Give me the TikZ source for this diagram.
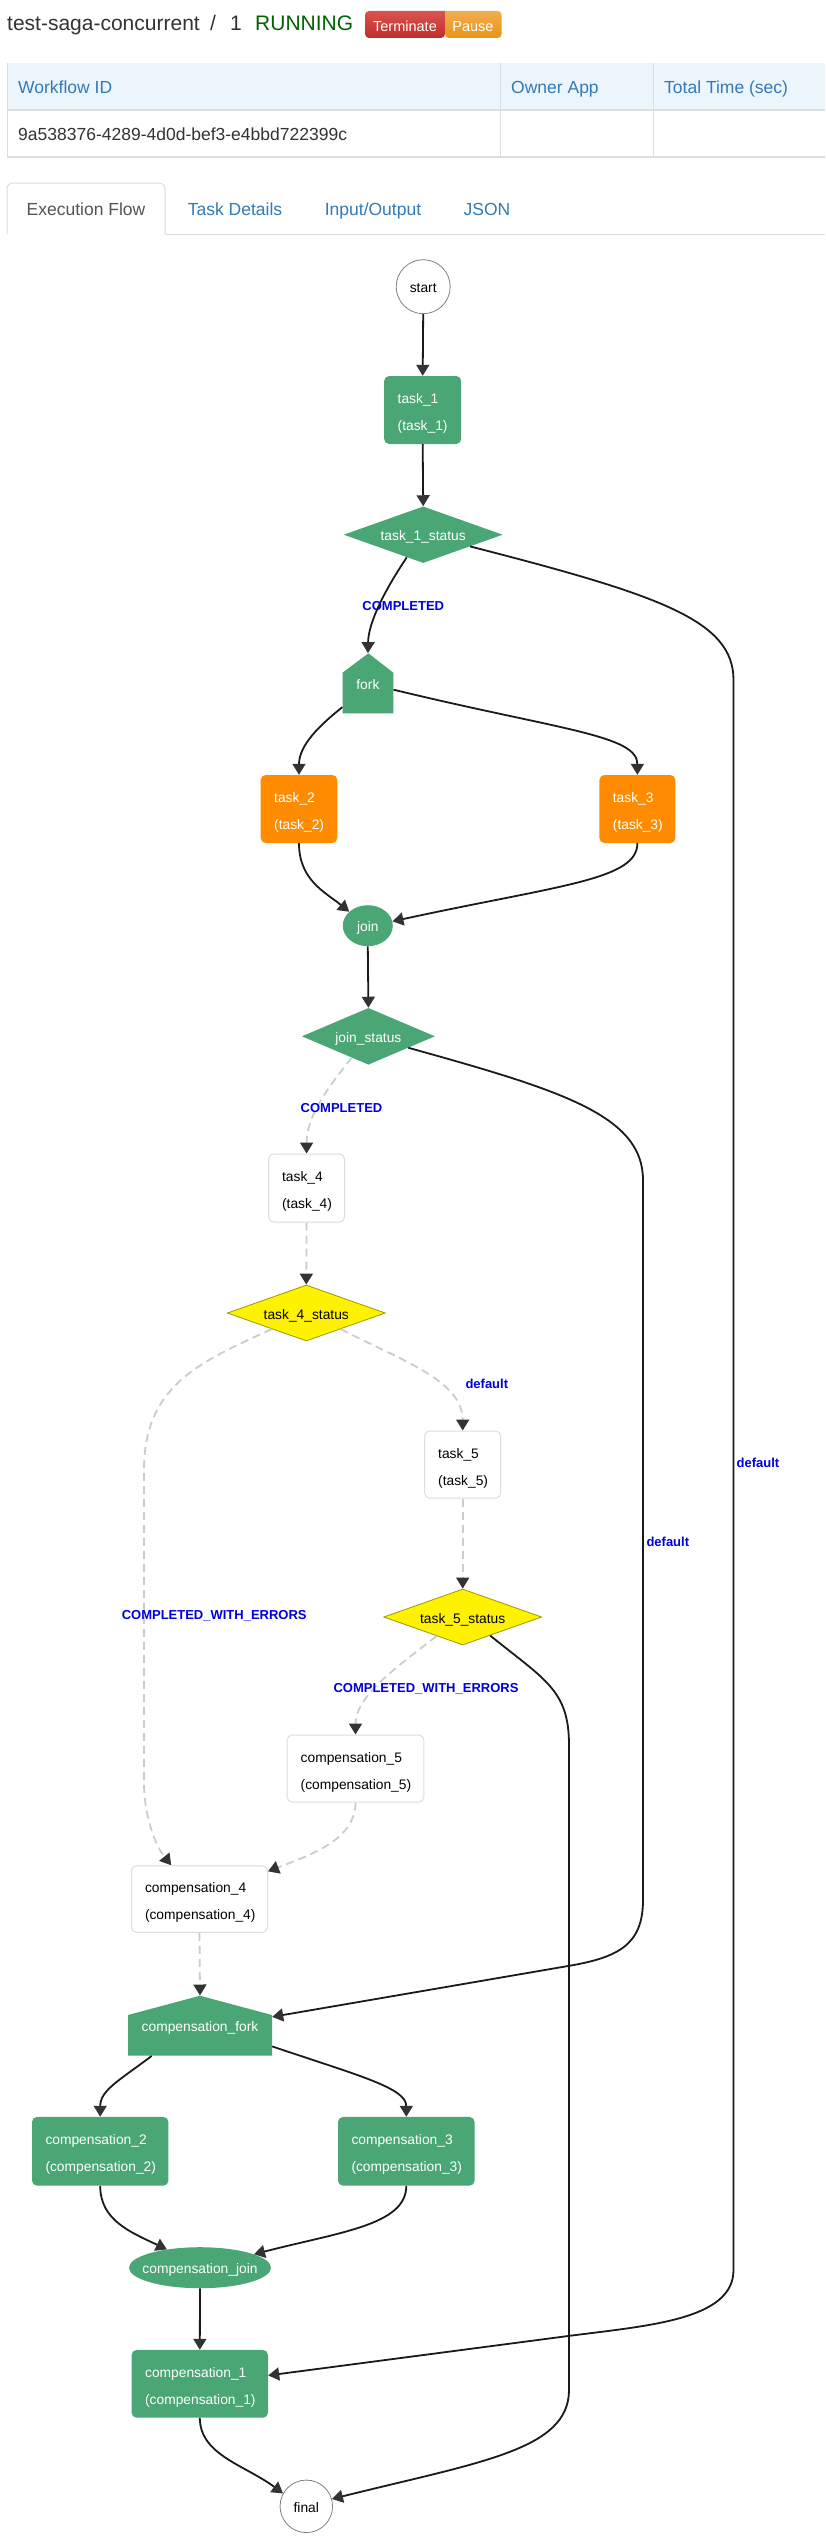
\documentclass[tikz,border=0pt]{standalone}
\usepackage{fontspec}
\setmainfont{Liberation Sans}
\usetikzlibrary{arrows.meta,shapes.geometric}
\definecolor{flowgreen}{HTML}{4AA775}
\definecolor{floworange}{HTML}{FF8C00}
\definecolor{edgeblack}{HTML}{1A1A1A}
\definecolor{tipgrey}{HTML}{333333}
\definecolor{dashgrey}{HTML}{CCCCCC}
\definecolor{boxgrey}{HTML}{DDDDDD}
\definecolor{linkblue}{HTML}{337AB7}
\definecolor{headbg}{HTML}{ECF5FB}
\definecolor{labelblue}{HTML}{0000DD}
\definecolor{bodytext}{HTML}{333333}
\definecolor{runninggreen}{HTML}{006400}
\definecolor{btnredtop}{HTML}{D9534F}
\definecolor{btnredbot}{HTML}{C12E2A}
\definecolor{btnorgtop}{HTML}{F0AD4E}
\definecolor{btnorgbot}{HTML}{EB9316}
\definecolor{yellowedge}{HTML}{999900}
\newcommand{\cen}[1]{\makebox[0pt]{\raisebox{-6pt}[0pt][0pt]{#1}}}
\newcommand{\twoline}[2]{\rule{0pt}{17pt}#1\\#2}
\tikzset{
  x=1pt,y=-1pt,
  tipstyle/.style={-{Triangle[length=11pt,width=13pt,color=tipgrey,fill=tipgrey]}},
  solidedge/.style={tipstyle,draw=edgeblack,line width=1.8pt},
  dashedge/.style={tipstyle,draw=dashgrey,line width=1.8pt,dash pattern=on 8pt off 5pt},
  lbl/.style={inner sep=0pt,anchor=mid,yshift=-1.3pt,text=labelblue,font=\fontsize{13}{15}\selectfont\bfseries},
  head/.style={inner sep=0pt,anchor=mid west,text=linkblue,font=\fontsize{17.5}{20}\selectfont},
  tbox/.style 2 args={rectangle,rounded corners=5pt,minimum width=#1pt,minimum height=#2pt,inner sep=0pt,
    text width=#1pt-27pt,align=left,font=\fontsize{13.8}{27}\selectfont},
  greenbox/.style={fill=flowgreen,text=white},
  orangebox/.style={fill=floworange,text=white},
  whitebox/.style={fill=white,draw=boxgrey,line width=1pt,text=black},
  ring/.style={circle,draw=gray,line width=.8pt,fill=white,inner sep=0pt,minimum size=#1pt,font=\fontsize{13.8}{16}\selectfont,text=black},
  greendia/.style 2 args={diamond,fill=flowgreen,text=white,inner sep=0pt,minimum width=#1pt,minimum height=#2pt,font=\fontsize{13.8}{16}\selectfont},
  yellowdia/.style 2 args={diamond,fill=yellow,draw=yellowedge,line width=.8pt,text=black,inner sep=0pt,minimum width=#1pt,minimum height=#2pt,font=\fontsize{13.8}{16}\selectfont},
  greenoval/.style 2 args={ellipse,fill=flowgreen,text=white,inner sep=0pt,minimum width=#1pt,minimum height=#2pt,font=\fontsize{13.8}{16}\selectfont},
  housebox/.style 2 args={rectangle,inner sep=0pt,minimum width=#1pt,minimum height=#2pt,text=white,font=\fontsize{13.8}{16}\selectfont},
}
\begin{document}
\begin{tikzpicture}
\useasboundingbox (0,0) rectangle (825,2548);
\fill[white] (0,0) rectangle (825,2548);

% title
\node[inner sep=0pt,anchor=mid west,text=bodytext,font=\fontsize{21}{24}\selectfont] (wfname) at (7,28) {test-saga-concurrent};
\node[inner sep=0pt,anchor=mid,text=bodytext,font=\fontsize{21}{24}\selectfont] (wfslash) at (213,28) {/};
\node[inner sep=0pt,anchor=mid,text=bodytext,font=\fontsize{21}{24}\selectfont] (wfver) at (236,28) {1};
\node[inner sep=0pt,anchor=mid west,text=runninggreen,font=\fontsize{21}{24}\selectfont] (wfstate) at (255,28) {RUNNING};

% buttons
\path[top color=btnredtop,bottom color=btnredbot,rounded corners=4pt]
  (445,11) -- (365,11) -- (365,38) -- (445,38) [sharp corners] -- cycle;
\path[top color=btnorgtop,bottom color=btnorgbot,rounded corners=4pt]
  (445,11) -- (501.6,11) -- (501.6,38) -- (445,38) [sharp corners] -- cycle;
\node[inner sep=0pt,text=white,anchor=mid,font=\fontsize{14.5}{16}\selectfont] (btnterm) at (405,28.5) {Terminate};
\node[inner sep=0pt,text=white,anchor=mid,font=\fontsize{14.5}{16}\selectfont] (btnpause) at (473,28.5) {Pause};

% table
\fill[headbg] (7,63) rectangle (825,109);
\fill[boxgrey] (7,109) rectangle (825,111);
\fill[boxgrey] (7,156) rectangle (825,157.5);
\draw[boxgrey,line width=.8pt] (7,63) -- (7,157);
\draw[boxgrey,line width=.8pt] (500.5,63) -- (500.5,157);
\draw[boxgrey,line width=.8pt] (653.7,63) -- (653.7,157);
\node[head] (hwid) at (18,91) {Workflow ID};
\node[head] (howner) at (511,91) {Owner App};
\node[head] (htime) at (664,91) {Total Time (sec)};
\node[inner sep=0pt,anchor=mid west,text=bodytext,font=\fontsize{17.5}{20}\selectfont] (vwid) at (18,138) {9a538376-4289-4d0d-bef3-e4bbd722399c};

% tabs
\draw[boxgrey,line width=1pt] (165,234.5) -- (825,234.5);
\draw[boxgrey,line width=1pt,rounded corners=6pt] (7,234) -- (7,183) -- (165,183) -- (165,234.5);
\node[inner sep=0pt,anchor=mid,text=black!67,font=\fontsize{17.5}{20}\selectfont] (tabflow) at (86,213) {Execution Flow};
\node[inner sep=0pt,anchor=mid,text=linkblue,font=\fontsize{17.5}{20}\selectfont] (tabdetail) at (235,213) {Task Details};
\node[inner sep=0pt,anchor=mid,text=linkblue,font=\fontsize{17.5}{20}\selectfont] (tabio) at (373,213) {Input/Output};
\node[inner sep=0pt,anchor=mid,text=linkblue,font=\fontsize{17.5}{20}\selectfont] (tabjson) at (487,213) {JSON};

% house shapes
\fill[flowgreen] (368.4,653.3) -- (393.3,672.7) -- (393.3,713.3) -- (342.5,713.3) -- (342.5,672.7) -- cycle;
\fill[flowgreen] (200,1995.7) -- (272,2015) -- (272,2055.7) -- (128,2055.7) -- (128,2015) -- cycle;

% nodes
\node[ring=54] (start) at (423.2,286.7) {\cen{start}};
\node[tbox={77}{68},greenbox] (task1) at (422.7,410) {\twoline{task\_1}{(task\_1)}};
\node[greendia={159}{56.5}] (t1s) at (423.2,534.7) {\cen{task\_1\_status}};
\node[housebox={50.8}{60}] (fork) at (367.9,683.3) {\cen{fork}};
\node[tbox={76.6}{68},orangebox] (task2) at (299,809) {\twoline{task\_2}{(task\_2)}};
\node[tbox={76}{68},orangebox] (task3) at (637.4,809) {\twoline{task\_3}{(task\_3)}};
\node[greenoval={50}{41}] (join) at (367.8,925.7) {\cen{join}};
\node[greendia={133}{56.7}] (js) at (368.4,1036.3) {\cen{join\_status}};
\node[tbox={76}{68},whitebox] (task4) at (306.6,1188) {\twoline{task\_4}{(task\_4)}};
\node[yellowdia={158}{56}] (t4s) at (306.3,1313) {\cen{task\_4\_status}};
\node[tbox={76}{67},whitebox] (task5) at (462.7,1464.5) {\twoline{task\_5}{(task\_5)}};
\node[yellowdia={158}{56}] (t5s) at (462.7,1617) {\cen{task\_5\_status}};
\node[tbox={136.6}{67},whitebox] (c5) at (355.5,1768.5) {\twoline{compensation\_5}{(compensation\_5)}};
\node[tbox={136}{66.5},whitebox] (c4) at (199.5,1899) {\twoline{compensation\_4}{(compensation\_4)}};
\node[housebox={144}{60}] (cf) at (200,2025.7) {\cen{compensation\_fork}};
\node[tbox={136.4}{68.7},greenbox] (c2) at (100.2,2151.3) {\twoline{compensation\_2}{(compensation\_2)}};
\node[tbox={136.6}{68.7},greenbox] (c3) at (406.3,2151.3) {\twoline{compensation\_3}{(compensation\_3)}};
\node[greenoval={142}{41}] (cj) at (200,2267.7) {\cen{compensation\_join}};
\node[tbox={136.4}{67.7},greenbox] (c1) at (199.8,2383.8) {\twoline{compensation\_1}{(compensation\_1)}};
\node[ring=52.5] (final) at (306.3,2506.3) {\cen{final}};

% edges
\draw[solidedge] (start.south) -- (task1.north);
\draw[solidedge] (task1.south) -- (t1s.north);
\draw[solidedge] (t1s.-126) .. controls (385,590) and (368.4,622) .. (fork.north);
\draw[solidedge] (t1s.-14) .. controls (659,595) and (733.5,620) .. (733.5,680) -- (733.5,2270)
   .. controls (733.5,2320) and (648,2325.6) .. (568,2336) -- (c1.7.4);
\draw[solidedge] (fork.-137.5) .. controls (320,725) and (299,745) .. (task2.north);
\draw[solidedge] (fork.-14.7) .. controls (560,730) and (637.4,735) .. (task3.north);
\draw[solidedge] (task2.south) .. controls (299,880) and (325,892) .. (join.143.3);
\draw[solidedge] (task3.south) .. controls (637.4,880) and (560,885) .. (join.10.8);
\draw[solidedge] (join.south) -- (js.north);
\draw[dashedge] (js.-128) .. controls (330,1085) and (306.6,1115) .. (task4.north);
\draw[solidedge] (js.-16) .. controls (560,1090) and (643,1115) .. (643,1180) -- (643,1900)
   .. controls (643,1945) and (618,1957.5) .. (568,1966) -- (cf.7.7);
\draw[dashedge] (task4.south) -- (t4s.north);
\draw[dashedge] (t4s.-25.6) .. controls (400,1360) and (462.7,1380) .. (task5.north);
\draw[dashedge] (t4s.-155.3) .. controls (200,1362) and (144,1385) .. (144,1470) -- (144,1783)
   .. controls (144,1815) and (155,1845) .. (c4.130.6);
\draw[dashedge] (task5.south) -- (t5s.north);
\draw[dashedge] (t5s.-144) .. controls (400,1665) and (355.5,1695) .. (c5.north);
\draw[solidedge] (t5s.-34.3) .. controls (545,1680) and (569,1690) .. (569,1745) -- (569,2390)
   .. controls (569,2450) and (480,2462) .. (final.16);
\draw[dashedge] (c5.south) .. controls (355.5,1840) and (310,1855) .. (c4.22.3);
\draw[dashedge] (c4.south) -- (cf.north);
\draw[solidedge] (cf.-148.5) .. controls (120,2080) and (100.2,2090) .. (c2.north);
\draw[solidedge] (cf.-16.5) .. controls (360,2076) and (406.3,2088) .. (c3.north);
\draw[solidedge] (c2.south) .. controls (100.2,2220) and (130,2232) .. (cj.151.6);
\draw[solidedge] (c3.south) .. controls (406.3,2225) and (340,2232) .. (cj.14.3);
\draw[solidedge] (cj.south) -- (c1.north);
\draw[solidedge] (c1.south) .. controls (200,2455) and (245,2465) .. (final.151.7);

% edge labels
\node[lbl] (l1) at (403.3,606.7) {COMPLETED};
\node[lbl] (l2) at (341.5,1108.7) {COMPLETED};
\node[lbl] (l3) at (486.8,1384.7) {default};
\node[lbl] (l4) at (758,1463.7) {default};
\node[lbl] (l5) at (667.8,1542.7) {default};
\node[lbl] (l6) at (214.2,1615.7) {COMPLETED\_WITH\_ERRORS};
\node[lbl] (l7) at (426,1688.7) {COMPLETED\_WITH\_ERRORS};
\end{tikzpicture}
\end{document}
